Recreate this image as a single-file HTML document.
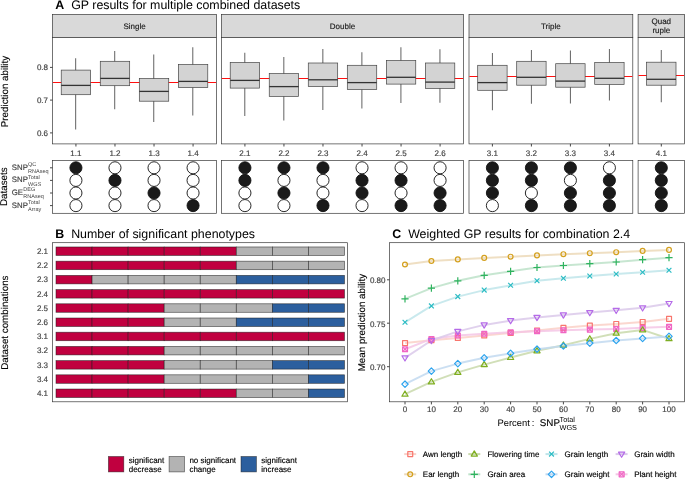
<!DOCTYPE html>
<html><head><meta charset="utf-8"><title>GP results</title>
<style>
html,body{margin:0;padding:0;background:#fff;}
svg{display:block}
text{font-family:"Liberation Sans", Arial, sans-serif;text-rendering:geometricPrecision;}
.tk{font-size:8px;fill:#444;stroke:#444;stroke-width:0.18px}
.st{font-size:8px;fill:#1a1a1a;stroke:#1a1a1a;stroke-width:0.15px}
.ti{font-size:12.4px;fill:#000;white-space:pre}
.ax{font-size:9.8px;fill:#000;stroke:#000;stroke-width:0.12px}
.lg{font-size:8px;fill:#000;stroke:#000;stroke-width:0.15px}
</style></head><body>
<svg width="685" height="479" viewBox="0 0 685 479">
<rect x="0" y="0" width="685" height="479" fill="#fff"/>

<rect x="52.5" y="14.5" width="164.00" height="23.00" fill="#d9d9d9" stroke="#333" stroke-width="0.68"/>
<text class="st" x="134.5" y="28.9" text-anchor="middle">Single</text>
<rect x="52.5" y="37.5" width="164.00" height="106.40" fill="#fff" stroke="#333" stroke-width="0.68"/>
<line x1="52.9" x2="216.1" y1="82.5" y2="82.5" stroke="#ff1010" stroke-width="1.0"/>
<line x1="75.63" x2="75.63" y1="58.3" y2="129.6" stroke="#707070" stroke-width="1.1"/>
<rect x="61.23" y="70.1" width="29.4" height="24.60" fill="#d3d3d3" stroke="#444" stroke-width="0.7"/>
<line x1="61.23" x2="90.63" y1="85.4" y2="85.4" stroke="#333" stroke-width="1.3"/>
<line x1="75.93" x2="75.93" y1="143.9" y2="146.5" stroke="#333" stroke-width="0.9"/>
<text class="tk" x="75.93" y="155.7" text-anchor="middle">1.1</text>
<line x1="114.68" x2="114.68" y1="51.0" y2="109.3" stroke="#707070" stroke-width="1.1"/>
<rect x="100.28" y="61.3" width="29.4" height="24.40" fill="#d3d3d3" stroke="#444" stroke-width="0.7"/>
<line x1="100.28" x2="129.68" y1="78.4" y2="78.4" stroke="#333" stroke-width="1.3"/>
<line x1="114.98" x2="114.98" y1="143.9" y2="146.5" stroke="#333" stroke-width="0.9"/>
<text class="tk" x="114.98" y="155.7" text-anchor="middle">1.2</text>
<line x1="153.72" x2="153.72" y1="54.5" y2="121.9" stroke="#707070" stroke-width="1.1"/>
<rect x="139.32" y="78.6" width="29.4" height="22.60" fill="#d3d3d3" stroke="#444" stroke-width="0.7"/>
<line x1="139.32" x2="168.72" y1="91.4" y2="91.4" stroke="#333" stroke-width="1.3"/>
<line x1="154.02" x2="154.02" y1="143.9" y2="146.5" stroke="#333" stroke-width="0.9"/>
<text class="tk" x="154.02" y="155.7" text-anchor="middle">1.3</text>
<line x1="192.77" x2="192.77" y1="47.2" y2="115.5" stroke="#707070" stroke-width="1.1"/>
<rect x="178.37" y="64.5" width="29.4" height="23.10" fill="#d3d3d3" stroke="#444" stroke-width="0.7"/>
<line x1="178.37" x2="207.77" y1="81.4" y2="81.4" stroke="#333" stroke-width="1.3"/>
<line x1="193.07" x2="193.07" y1="143.9" y2="146.5" stroke="#333" stroke-width="0.9"/>
<text class="tk" x="193.07" y="155.7" text-anchor="middle">1.4</text>
<rect x="52.5" y="160.5" width="164.00" height="52.80" fill="#fff" stroke="#333" stroke-width="0.68"/>
<circle cx="75.93" cy="167.8" r="6.05" fill="#1a1a1a" stroke="#111" stroke-width="0.9"/>
<circle cx="75.93" cy="180.4" r="6.05" fill="#fff" stroke="#111" stroke-width="0.9"/>
<circle cx="75.93" cy="193.0" r="6.05" fill="#fff" stroke="#111" stroke-width="0.9"/>
<circle cx="75.93" cy="205.6" r="6.05" fill="#fff" stroke="#111" stroke-width="0.9"/>
<circle cx="114.98" cy="167.8" r="6.05" fill="#fff" stroke="#111" stroke-width="0.9"/>
<circle cx="114.98" cy="180.4" r="6.05" fill="#1a1a1a" stroke="#111" stroke-width="0.9"/>
<circle cx="114.98" cy="193.0" r="6.05" fill="#fff" stroke="#111" stroke-width="0.9"/>
<circle cx="114.98" cy="205.6" r="6.05" fill="#fff" stroke="#111" stroke-width="0.9"/>
<circle cx="154.02" cy="167.8" r="6.05" fill="#fff" stroke="#111" stroke-width="0.9"/>
<circle cx="154.02" cy="180.4" r="6.05" fill="#fff" stroke="#111" stroke-width="0.9"/>
<circle cx="154.02" cy="193.0" r="6.05" fill="#1a1a1a" stroke="#111" stroke-width="0.9"/>
<circle cx="154.02" cy="205.6" r="6.05" fill="#fff" stroke="#111" stroke-width="0.9"/>
<circle cx="193.07" cy="167.8" r="6.05" fill="#fff" stroke="#111" stroke-width="0.9"/>
<circle cx="193.07" cy="180.4" r="6.05" fill="#fff" stroke="#111" stroke-width="0.9"/>
<circle cx="193.07" cy="193.0" r="6.05" fill="#fff" stroke="#111" stroke-width="0.9"/>
<circle cx="193.07" cy="205.6" r="6.05" fill="#1a1a1a" stroke="#111" stroke-width="0.9"/>
<rect x="221.5" y="14.5" width="242.00" height="23.00" fill="#d9d9d9" stroke="#333" stroke-width="0.68"/>
<text class="st" x="342.5" y="28.9" text-anchor="middle">Double</text>
<rect x="221.5" y="37.5" width="242.00" height="106.40" fill="#fff" stroke="#333" stroke-width="0.68"/>
<line x1="221.9" x2="463.1" y1="78.5" y2="78.5" stroke="#ff1010" stroke-width="1.0"/>
<line x1="244.77" x2="244.77" y1="52.7" y2="116.0" stroke="#707070" stroke-width="1.1"/>
<rect x="230.22" y="62.5" width="29.4" height="25.60" fill="#d3d3d3" stroke="#444" stroke-width="0.7"/>
<line x1="230.22" x2="259.62" y1="80.4" y2="80.4" stroke="#333" stroke-width="1.3"/>
<line x1="244.92" x2="244.92" y1="143.9" y2="146.5" stroke="#333" stroke-width="0.9"/>
<text class="tk" x="244.92" y="155.7" text-anchor="middle">2.1</text>
<line x1="283.80" x2="283.80" y1="57.0" y2="120.5" stroke="#707070" stroke-width="1.1"/>
<rect x="269.25" y="73.6" width="29.4" height="22.80" fill="#d3d3d3" stroke="#444" stroke-width="0.7"/>
<line x1="269.25" x2="298.65" y1="86.6" y2="86.6" stroke="#333" stroke-width="1.3"/>
<line x1="283.95" x2="283.95" y1="143.9" y2="146.5" stroke="#333" stroke-width="0.9"/>
<text class="tk" x="283.95" y="155.7" text-anchor="middle">2.2</text>
<line x1="322.83" x2="322.83" y1="48.9" y2="110.0" stroke="#707070" stroke-width="1.1"/>
<rect x="308.28" y="63.0" width="29.4" height="23.60" fill="#d3d3d3" stroke="#444" stroke-width="0.7"/>
<line x1="308.28" x2="337.68" y1="79.8" y2="79.8" stroke="#333" stroke-width="1.3"/>
<line x1="322.98" x2="322.98" y1="143.9" y2="146.5" stroke="#333" stroke-width="0.9"/>
<text class="tk" x="322.98" y="155.7" text-anchor="middle">2.3</text>
<line x1="361.87" x2="361.87" y1="52.2" y2="108.5" stroke="#707070" stroke-width="1.1"/>
<rect x="347.32" y="65.3" width="29.4" height="24.30" fill="#d3d3d3" stroke="#444" stroke-width="0.7"/>
<line x1="347.32" x2="376.72" y1="82.6" y2="82.6" stroke="#333" stroke-width="1.3"/>
<line x1="362.02" x2="362.02" y1="143.9" y2="146.5" stroke="#333" stroke-width="0.9"/>
<text class="tk" x="362.02" y="155.7" text-anchor="middle">2.4</text>
<line x1="400.90" x2="400.90" y1="47.2" y2="103.0" stroke="#707070" stroke-width="1.1"/>
<rect x="386.35" y="60.5" width="29.4" height="23.60" fill="#d3d3d3" stroke="#444" stroke-width="0.7"/>
<line x1="386.35" x2="415.75" y1="77.3" y2="77.3" stroke="#333" stroke-width="1.3"/>
<line x1="401.05" x2="401.05" y1="143.9" y2="146.5" stroke="#333" stroke-width="0.9"/>
<text class="tk" x="401.05" y="155.7" text-anchor="middle">2.5</text>
<line x1="439.93" x2="439.93" y1="49.2" y2="102.7" stroke="#707070" stroke-width="1.1"/>
<rect x="425.38" y="63.0" width="29.4" height="25.40" fill="#d3d3d3" stroke="#444" stroke-width="0.7"/>
<line x1="425.38" x2="454.78" y1="82.1" y2="82.1" stroke="#333" stroke-width="1.3"/>
<line x1="440.08" x2="440.08" y1="143.9" y2="146.5" stroke="#333" stroke-width="0.9"/>
<text class="tk" x="440.08" y="155.7" text-anchor="middle">2.6</text>
<rect x="221.5" y="160.5" width="242.00" height="52.80" fill="#fff" stroke="#333" stroke-width="0.68"/>
<circle cx="244.92" cy="167.8" r="6.05" fill="#1a1a1a" stroke="#111" stroke-width="0.9"/>
<circle cx="244.92" cy="180.4" r="6.05" fill="#1a1a1a" stroke="#111" stroke-width="0.9"/>
<circle cx="244.92" cy="193.0" r="6.05" fill="#fff" stroke="#111" stroke-width="0.9"/>
<circle cx="244.92" cy="205.6" r="6.05" fill="#fff" stroke="#111" stroke-width="0.9"/>
<circle cx="283.95" cy="167.8" r="6.05" fill="#1a1a1a" stroke="#111" stroke-width="0.9"/>
<circle cx="283.95" cy="180.4" r="6.05" fill="#fff" stroke="#111" stroke-width="0.9"/>
<circle cx="283.95" cy="193.0" r="6.05" fill="#1a1a1a" stroke="#111" stroke-width="0.9"/>
<circle cx="283.95" cy="205.6" r="6.05" fill="#fff" stroke="#111" stroke-width="0.9"/>
<circle cx="322.98" cy="167.8" r="6.05" fill="#1a1a1a" stroke="#111" stroke-width="0.9"/>
<circle cx="322.98" cy="180.4" r="6.05" fill="#fff" stroke="#111" stroke-width="0.9"/>
<circle cx="322.98" cy="193.0" r="6.05" fill="#fff" stroke="#111" stroke-width="0.9"/>
<circle cx="322.98" cy="205.6" r="6.05" fill="#1a1a1a" stroke="#111" stroke-width="0.9"/>
<circle cx="362.02" cy="167.8" r="6.05" fill="#fff" stroke="#111" stroke-width="0.9"/>
<circle cx="362.02" cy="180.4" r="6.05" fill="#1a1a1a" stroke="#111" stroke-width="0.9"/>
<circle cx="362.02" cy="193.0" r="6.05" fill="#1a1a1a" stroke="#111" stroke-width="0.9"/>
<circle cx="362.02" cy="205.6" r="6.05" fill="#fff" stroke="#111" stroke-width="0.9"/>
<circle cx="401.05" cy="167.8" r="6.05" fill="#fff" stroke="#111" stroke-width="0.9"/>
<circle cx="401.05" cy="180.4" r="6.05" fill="#1a1a1a" stroke="#111" stroke-width="0.9"/>
<circle cx="401.05" cy="193.0" r="6.05" fill="#fff" stroke="#111" stroke-width="0.9"/>
<circle cx="401.05" cy="205.6" r="6.05" fill="#1a1a1a" stroke="#111" stroke-width="0.9"/>
<circle cx="440.08" cy="167.8" r="6.05" fill="#fff" stroke="#111" stroke-width="0.9"/>
<circle cx="440.08" cy="180.4" r="6.05" fill="#fff" stroke="#111" stroke-width="0.9"/>
<circle cx="440.08" cy="193.0" r="6.05" fill="#1a1a1a" stroke="#111" stroke-width="0.9"/>
<circle cx="440.08" cy="205.6" r="6.05" fill="#1a1a1a" stroke="#111" stroke-width="0.9"/>
<rect x="469.0" y="14.5" width="163.80" height="23.00" fill="#d9d9d9" stroke="#333" stroke-width="0.68"/>
<text class="st" x="550.9" y="28.9" text-anchor="middle">Triple</text>
<rect x="469.0" y="37.5" width="163.80" height="106.40" fill="#fff" stroke="#333" stroke-width="0.68"/>
<line x1="469.4" x2="632.4" y1="76.5" y2="76.5" stroke="#ff1010" stroke-width="1.0"/>
<line x1="492.45" x2="492.45" y1="53.0" y2="110.3" stroke="#707070" stroke-width="1.1"/>
<rect x="477.70" y="65.3" width="29.4" height="25.00" fill="#d3d3d3" stroke="#444" stroke-width="0.7"/>
<line x1="477.70" x2="507.10" y1="82.6" y2="82.6" stroke="#333" stroke-width="1.3"/>
<line x1="492.40" x2="492.40" y1="143.9" y2="146.5" stroke="#333" stroke-width="0.9"/>
<text class="tk" x="492.40" y="155.7" text-anchor="middle">3.1</text>
<line x1="531.45" x2="531.45" y1="50.0" y2="103.7" stroke="#707070" stroke-width="1.1"/>
<rect x="516.70" y="61.3" width="29.4" height="23.90" fill="#d3d3d3" stroke="#444" stroke-width="0.7"/>
<line x1="516.70" x2="546.10" y1="77.3" y2="77.3" stroke="#333" stroke-width="1.3"/>
<line x1="531.40" x2="531.40" y1="143.9" y2="146.5" stroke="#333" stroke-width="0.9"/>
<text class="tk" x="531.40" y="155.7" text-anchor="middle">3.2</text>
<line x1="570.45" x2="570.45" y1="50.4" y2="103.4" stroke="#707070" stroke-width="1.1"/>
<rect x="555.70" y="63.7" width="29.4" height="23.50" fill="#d3d3d3" stroke="#444" stroke-width="0.7"/>
<line x1="555.70" x2="585.10" y1="81.1" y2="81.1" stroke="#333" stroke-width="1.3"/>
<line x1="570.40" x2="570.40" y1="143.9" y2="146.5" stroke="#333" stroke-width="0.9"/>
<text class="tk" x="570.40" y="155.7" text-anchor="middle">3.3</text>
<line x1="609.45" x2="609.45" y1="49.1" y2="100.4" stroke="#707070" stroke-width="1.1"/>
<rect x="594.70" y="62.5" width="29.4" height="22.00" fill="#d3d3d3" stroke="#444" stroke-width="0.7"/>
<line x1="594.70" x2="624.10" y1="78.3" y2="78.3" stroke="#333" stroke-width="1.3"/>
<line x1="609.40" x2="609.40" y1="143.9" y2="146.5" stroke="#333" stroke-width="0.9"/>
<text class="tk" x="609.40" y="155.7" text-anchor="middle">3.4</text>
<rect x="469.0" y="160.5" width="163.80" height="52.80" fill="#fff" stroke="#333" stroke-width="0.68"/>
<circle cx="492.40" cy="167.8" r="6.05" fill="#1a1a1a" stroke="#111" stroke-width="0.9"/>
<circle cx="492.40" cy="180.4" r="6.05" fill="#1a1a1a" stroke="#111" stroke-width="0.9"/>
<circle cx="492.40" cy="193.0" r="6.05" fill="#1a1a1a" stroke="#111" stroke-width="0.9"/>
<circle cx="492.40" cy="205.6" r="6.05" fill="#fff" stroke="#111" stroke-width="0.9"/>
<circle cx="531.40" cy="167.8" r="6.05" fill="#1a1a1a" stroke="#111" stroke-width="0.9"/>
<circle cx="531.40" cy="180.4" r="6.05" fill="#1a1a1a" stroke="#111" stroke-width="0.9"/>
<circle cx="531.40" cy="193.0" r="6.05" fill="#fff" stroke="#111" stroke-width="0.9"/>
<circle cx="531.40" cy="205.6" r="6.05" fill="#1a1a1a" stroke="#111" stroke-width="0.9"/>
<circle cx="570.40" cy="167.8" r="6.05" fill="#1a1a1a" stroke="#111" stroke-width="0.9"/>
<circle cx="570.40" cy="180.4" r="6.05" fill="#fff" stroke="#111" stroke-width="0.9"/>
<circle cx="570.40" cy="193.0" r="6.05" fill="#1a1a1a" stroke="#111" stroke-width="0.9"/>
<circle cx="570.40" cy="205.6" r="6.05" fill="#1a1a1a" stroke="#111" stroke-width="0.9"/>
<circle cx="609.40" cy="167.8" r="6.05" fill="#fff" stroke="#111" stroke-width="0.9"/>
<circle cx="609.40" cy="180.4" r="6.05" fill="#1a1a1a" stroke="#111" stroke-width="0.9"/>
<circle cx="609.40" cy="193.0" r="6.05" fill="#1a1a1a" stroke="#111" stroke-width="0.9"/>
<circle cx="609.40" cy="205.6" r="6.05" fill="#1a1a1a" stroke="#111" stroke-width="0.9"/>
<rect x="638.1" y="14.5" width="46.40" height="23.00" fill="#d9d9d9" stroke="#333" stroke-width="0.68"/>
<text class="st" x="661.3" y="24.0" text-anchor="middle">Quad</text>
<text class="st" x="661.3" y="32.8" text-anchor="middle">ruple</text>
<rect x="638.1" y="37.5" width="46.40" height="106.40" fill="#fff" stroke="#333" stroke-width="0.68"/>
<line x1="638.5" x2="684.1" y1="75.5" y2="75.5" stroke="#ff1010" stroke-width="1.0"/>
<line x1="661.30" x2="661.30" y1="50.0" y2="102.3" stroke="#707070" stroke-width="1.1"/>
<rect x="646.60" y="62.2" width="29.4" height="23.00" fill="#d3d3d3" stroke="#444" stroke-width="0.7"/>
<line x1="646.60" x2="676.00" y1="79.3" y2="79.3" stroke="#333" stroke-width="1.3"/>
<line x1="661.30" x2="661.30" y1="143.9" y2="146.5" stroke="#333" stroke-width="0.9"/>
<text class="tk" x="661.30" y="155.7" text-anchor="middle">4.1</text>
<rect x="638.1" y="160.5" width="46.40" height="52.80" fill="#fff" stroke="#333" stroke-width="0.68"/>
<circle cx="661.30" cy="167.8" r="6.05" fill="#1a1a1a" stroke="#111" stroke-width="0.9"/>
<circle cx="661.30" cy="180.4" r="6.05" fill="#1a1a1a" stroke="#111" stroke-width="0.9"/>
<circle cx="661.30" cy="193.0" r="6.05" fill="#1a1a1a" stroke="#111" stroke-width="0.9"/>
<circle cx="661.30" cy="205.6" r="6.05" fill="#1a1a1a" stroke="#111" stroke-width="0.9"/>
<line x1="50.0" x2="52.5" y1="67.4" y2="67.4" stroke="#333" stroke-width="0.9"/>
<text class="tk" x="48.0" y="70.1" text-anchor="end">0.8</text>
<line x1="50.0" x2="52.5" y1="100.1" y2="100.1" stroke="#333" stroke-width="0.9"/>
<text class="tk" x="48.0" y="102.8" text-anchor="end">0.7</text>
<line x1="50.0" x2="52.5" y1="132.9" y2="132.9" stroke="#333" stroke-width="0.9"/>
<text class="tk" x="48.0" y="135.6" text-anchor="end">0.6</text>
<line x1="50.0" x2="52.5" y1="167.8" y2="167.8" stroke="#333" stroke-width="0.9"/>
<text class="tk" style="font-size:7.8px" x="11.8" y="169.8">SNP</text>
<text x="28.1" y="165.9" font-size="5.5" fill="#444">QC</text>
<text x="28.1" y="172.9" font-size="5.5" fill="#444">RNAseq</text>
<line x1="50.0" x2="52.5" y1="180.4" y2="180.4" stroke="#333" stroke-width="0.9"/>
<text class="tk" style="font-size:7.8px" x="11.8" y="182.4">SNP</text>
<text x="28.1" y="178.5" font-size="5.5" fill="#444">Total</text>
<text x="28.1" y="185.5" font-size="5.5" fill="#444">WGS</text>
<line x1="50.0" x2="52.5" y1="193.0" y2="193.0" stroke="#333" stroke-width="0.9"/>
<text class="tk" style="font-size:7.8px" x="11.8" y="195.0">GE</text>
<text x="23.3" y="191.1" font-size="5.5" fill="#444">DEG</text>
<text x="23.3" y="198.1" font-size="5.5" fill="#444">RNAseq</text>
<line x1="50.0" x2="52.5" y1="205.6" y2="205.6" stroke="#333" stroke-width="0.9"/>
<text class="tk" style="font-size:7.8px" x="11.8" y="207.6">SNP</text>
<text x="28.1" y="203.7" font-size="5.5" fill="#444">Total</text>
<text x="28.1" y="210.7" font-size="5.5" fill="#444">Array</text>
<text class="ti" x="55.3" y="9.1" xml:space="preserve"><tspan font-weight="bold">A</tspan>  GP results for multiple combined datasets</text>
<text class="ax" transform="translate(7.6,91.5) rotate(-90)" text-anchor="middle">Prediction ability</text>
<text class="ax" transform="translate(6.8,186.7) rotate(-90)" text-anchor="middle">Datasets</text>
<rect x="52.5" y="242.7" width="295.00" height="159.10" fill="#fff" stroke="#333" stroke-width="0.68"/>
<rect x="56.00" y="246.97" width="36.06" height="8.5" fill="#c0003f" stroke="#1a1a1a" stroke-opacity="0.7" stroke-width="0.7"/>
<rect x="92.06" y="246.97" width="36.06" height="8.5" fill="#c0003f" stroke="#1a1a1a" stroke-opacity="0.7" stroke-width="0.7"/>
<rect x="128.12" y="246.97" width="36.06" height="8.5" fill="#c0003f" stroke="#1a1a1a" stroke-opacity="0.7" stroke-width="0.7"/>
<rect x="164.18" y="246.97" width="36.06" height="8.5" fill="#c0003f" stroke="#1a1a1a" stroke-opacity="0.7" stroke-width="0.7"/>
<rect x="200.24" y="246.97" width="36.06" height="8.5" fill="#c0003f" stroke="#1a1a1a" stroke-opacity="0.7" stroke-width="0.7"/>
<rect x="236.30" y="246.97" width="36.06" height="8.5" fill="#b3b3b3" stroke="#1a1a1a" stroke-opacity="0.7" stroke-width="0.7"/>
<rect x="272.36" y="246.97" width="36.06" height="8.5" fill="#b3b3b3" stroke="#1a1a1a" stroke-opacity="0.7" stroke-width="0.7"/>
<rect x="308.42" y="246.97" width="36.06" height="8.5" fill="#b3b3b3" stroke="#1a1a1a" stroke-opacity="0.7" stroke-width="0.7"/>
<text class="tk" x="48.0" y="253.92" text-anchor="end">2.1</text>
<rect x="56.00" y="261.18" width="36.06" height="8.5" fill="#c0003f" stroke="#1a1a1a" stroke-opacity="0.7" stroke-width="0.7"/>
<rect x="92.06" y="261.18" width="36.06" height="8.5" fill="#c0003f" stroke="#1a1a1a" stroke-opacity="0.7" stroke-width="0.7"/>
<rect x="128.12" y="261.18" width="36.06" height="8.5" fill="#c0003f" stroke="#1a1a1a" stroke-opacity="0.7" stroke-width="0.7"/>
<rect x="164.18" y="261.18" width="36.06" height="8.5" fill="#c0003f" stroke="#1a1a1a" stroke-opacity="0.7" stroke-width="0.7"/>
<rect x="200.24" y="261.18" width="36.06" height="8.5" fill="#c0003f" stroke="#1a1a1a" stroke-opacity="0.7" stroke-width="0.7"/>
<rect x="236.30" y="261.18" width="36.06" height="8.5" fill="#b3b3b3" stroke="#1a1a1a" stroke-opacity="0.7" stroke-width="0.7"/>
<rect x="272.36" y="261.18" width="36.06" height="8.5" fill="#b3b3b3" stroke="#1a1a1a" stroke-opacity="0.7" stroke-width="0.7"/>
<rect x="308.42" y="261.18" width="36.06" height="8.5" fill="#b3b3b3" stroke="#1a1a1a" stroke-opacity="0.7" stroke-width="0.7"/>
<text class="tk" x="48.0" y="268.13" text-anchor="end">2.2</text>
<rect x="56.00" y="275.38" width="36.06" height="8.5" fill="#c0003f" stroke="#1a1a1a" stroke-opacity="0.7" stroke-width="0.7"/>
<rect x="92.06" y="275.38" width="36.06" height="8.5" fill="#b3b3b3" stroke="#1a1a1a" stroke-opacity="0.7" stroke-width="0.7"/>
<rect x="128.12" y="275.38" width="36.06" height="8.5" fill="#b3b3b3" stroke="#1a1a1a" stroke-opacity="0.7" stroke-width="0.7"/>
<rect x="164.18" y="275.38" width="36.06" height="8.5" fill="#b3b3b3" stroke="#1a1a1a" stroke-opacity="0.7" stroke-width="0.7"/>
<rect x="200.24" y="275.38" width="36.06" height="8.5" fill="#b3b3b3" stroke="#1a1a1a" stroke-opacity="0.7" stroke-width="0.7"/>
<rect x="236.30" y="275.38" width="36.06" height="8.5" fill="#2c5f9e" stroke="#1a1a1a" stroke-opacity="0.7" stroke-width="0.7"/>
<rect x="272.36" y="275.38" width="36.06" height="8.5" fill="#2c5f9e" stroke="#1a1a1a" stroke-opacity="0.7" stroke-width="0.7"/>
<rect x="308.42" y="275.38" width="36.06" height="8.5" fill="#2c5f9e" stroke="#1a1a1a" stroke-opacity="0.7" stroke-width="0.7"/>
<text class="tk" x="48.0" y="282.33" text-anchor="end">2.3</text>
<rect x="56.00" y="289.59" width="36.06" height="8.5" fill="#c0003f" stroke="#1a1a1a" stroke-opacity="0.7" stroke-width="0.7"/>
<rect x="92.06" y="289.59" width="36.06" height="8.5" fill="#c0003f" stroke="#1a1a1a" stroke-opacity="0.7" stroke-width="0.7"/>
<rect x="128.12" y="289.59" width="36.06" height="8.5" fill="#c0003f" stroke="#1a1a1a" stroke-opacity="0.7" stroke-width="0.7"/>
<rect x="164.18" y="289.59" width="36.06" height="8.5" fill="#c0003f" stroke="#1a1a1a" stroke-opacity="0.7" stroke-width="0.7"/>
<rect x="200.24" y="289.59" width="36.06" height="8.5" fill="#c0003f" stroke="#1a1a1a" stroke-opacity="0.7" stroke-width="0.7"/>
<rect x="236.30" y="289.59" width="36.06" height="8.5" fill="#c0003f" stroke="#1a1a1a" stroke-opacity="0.7" stroke-width="0.7"/>
<rect x="272.36" y="289.59" width="36.06" height="8.5" fill="#c0003f" stroke="#1a1a1a" stroke-opacity="0.7" stroke-width="0.7"/>
<rect x="308.42" y="289.59" width="36.06" height="8.5" fill="#c0003f" stroke="#1a1a1a" stroke-opacity="0.7" stroke-width="0.7"/>
<text class="tk" x="48.0" y="296.54" text-anchor="end">2.4</text>
<rect x="56.00" y="303.79" width="36.06" height="8.5" fill="#c0003f" stroke="#1a1a1a" stroke-opacity="0.7" stroke-width="0.7"/>
<rect x="92.06" y="303.79" width="36.06" height="8.5" fill="#c0003f" stroke="#1a1a1a" stroke-opacity="0.7" stroke-width="0.7"/>
<rect x="128.12" y="303.79" width="36.06" height="8.5" fill="#c0003f" stroke="#1a1a1a" stroke-opacity="0.7" stroke-width="0.7"/>
<rect x="164.18" y="303.79" width="36.06" height="8.5" fill="#b3b3b3" stroke="#1a1a1a" stroke-opacity="0.7" stroke-width="0.7"/>
<rect x="200.24" y="303.79" width="36.06" height="8.5" fill="#b3b3b3" stroke="#1a1a1a" stroke-opacity="0.7" stroke-width="0.7"/>
<rect x="236.30" y="303.79" width="36.06" height="8.5" fill="#b3b3b3" stroke="#1a1a1a" stroke-opacity="0.7" stroke-width="0.7"/>
<rect x="272.36" y="303.79" width="36.06" height="8.5" fill="#2c5f9e" stroke="#1a1a1a" stroke-opacity="0.7" stroke-width="0.7"/>
<rect x="308.42" y="303.79" width="36.06" height="8.5" fill="#2c5f9e" stroke="#1a1a1a" stroke-opacity="0.7" stroke-width="0.7"/>
<text class="tk" x="48.0" y="310.74" text-anchor="end">2.5</text>
<rect x="56.00" y="318.00" width="36.06" height="8.5" fill="#c0003f" stroke="#1a1a1a" stroke-opacity="0.7" stroke-width="0.7"/>
<rect x="92.06" y="318.00" width="36.06" height="8.5" fill="#c0003f" stroke="#1a1a1a" stroke-opacity="0.7" stroke-width="0.7"/>
<rect x="128.12" y="318.00" width="36.06" height="8.5" fill="#c0003f" stroke="#1a1a1a" stroke-opacity="0.7" stroke-width="0.7"/>
<rect x="164.18" y="318.00" width="36.06" height="8.5" fill="#b3b3b3" stroke="#1a1a1a" stroke-opacity="0.7" stroke-width="0.7"/>
<rect x="200.24" y="318.00" width="36.06" height="8.5" fill="#b3b3b3" stroke="#1a1a1a" stroke-opacity="0.7" stroke-width="0.7"/>
<rect x="236.30" y="318.00" width="36.06" height="8.5" fill="#2c5f9e" stroke="#1a1a1a" stroke-opacity="0.7" stroke-width="0.7"/>
<rect x="272.36" y="318.00" width="36.06" height="8.5" fill="#2c5f9e" stroke="#1a1a1a" stroke-opacity="0.7" stroke-width="0.7"/>
<rect x="308.42" y="318.00" width="36.06" height="8.5" fill="#2c5f9e" stroke="#1a1a1a" stroke-opacity="0.7" stroke-width="0.7"/>
<text class="tk" x="48.0" y="324.95" text-anchor="end">2.6</text>
<rect x="56.00" y="332.21" width="36.06" height="8.5" fill="#c0003f" stroke="#1a1a1a" stroke-opacity="0.7" stroke-width="0.7"/>
<rect x="92.06" y="332.21" width="36.06" height="8.5" fill="#c0003f" stroke="#1a1a1a" stroke-opacity="0.7" stroke-width="0.7"/>
<rect x="128.12" y="332.21" width="36.06" height="8.5" fill="#c0003f" stroke="#1a1a1a" stroke-opacity="0.7" stroke-width="0.7"/>
<rect x="164.18" y="332.21" width="36.06" height="8.5" fill="#c0003f" stroke="#1a1a1a" stroke-opacity="0.7" stroke-width="0.7"/>
<rect x="200.24" y="332.21" width="36.06" height="8.5" fill="#c0003f" stroke="#1a1a1a" stroke-opacity="0.7" stroke-width="0.7"/>
<rect x="236.30" y="332.21" width="36.06" height="8.5" fill="#c0003f" stroke="#1a1a1a" stroke-opacity="0.7" stroke-width="0.7"/>
<rect x="272.36" y="332.21" width="36.06" height="8.5" fill="#c0003f" stroke="#1a1a1a" stroke-opacity="0.7" stroke-width="0.7"/>
<rect x="308.42" y="332.21" width="36.06" height="8.5" fill="#c0003f" stroke="#1a1a1a" stroke-opacity="0.7" stroke-width="0.7"/>
<text class="tk" x="48.0" y="339.16" text-anchor="end">3.1</text>
<rect x="56.00" y="346.41" width="36.06" height="8.5" fill="#c0003f" stroke="#1a1a1a" stroke-opacity="0.7" stroke-width="0.7"/>
<rect x="92.06" y="346.41" width="36.06" height="8.5" fill="#c0003f" stroke="#1a1a1a" stroke-opacity="0.7" stroke-width="0.7"/>
<rect x="128.12" y="346.41" width="36.06" height="8.5" fill="#c0003f" stroke="#1a1a1a" stroke-opacity="0.7" stroke-width="0.7"/>
<rect x="164.18" y="346.41" width="36.06" height="8.5" fill="#b3b3b3" stroke="#1a1a1a" stroke-opacity="0.7" stroke-width="0.7"/>
<rect x="200.24" y="346.41" width="36.06" height="8.5" fill="#b3b3b3" stroke="#1a1a1a" stroke-opacity="0.7" stroke-width="0.7"/>
<rect x="236.30" y="346.41" width="36.06" height="8.5" fill="#b3b3b3" stroke="#1a1a1a" stroke-opacity="0.7" stroke-width="0.7"/>
<rect x="272.36" y="346.41" width="36.06" height="8.5" fill="#b3b3b3" stroke="#1a1a1a" stroke-opacity="0.7" stroke-width="0.7"/>
<rect x="308.42" y="346.41" width="36.06" height="8.5" fill="#b3b3b3" stroke="#1a1a1a" stroke-opacity="0.7" stroke-width="0.7"/>
<text class="tk" x="48.0" y="353.36" text-anchor="end">3.2</text>
<rect x="56.00" y="360.62" width="36.06" height="8.5" fill="#c0003f" stroke="#1a1a1a" stroke-opacity="0.7" stroke-width="0.7"/>
<rect x="92.06" y="360.62" width="36.06" height="8.5" fill="#c0003f" stroke="#1a1a1a" stroke-opacity="0.7" stroke-width="0.7"/>
<rect x="128.12" y="360.62" width="36.06" height="8.5" fill="#c0003f" stroke="#1a1a1a" stroke-opacity="0.7" stroke-width="0.7"/>
<rect x="164.18" y="360.62" width="36.06" height="8.5" fill="#b3b3b3" stroke="#1a1a1a" stroke-opacity="0.7" stroke-width="0.7"/>
<rect x="200.24" y="360.62" width="36.06" height="8.5" fill="#b3b3b3" stroke="#1a1a1a" stroke-opacity="0.7" stroke-width="0.7"/>
<rect x="236.30" y="360.62" width="36.06" height="8.5" fill="#b3b3b3" stroke="#1a1a1a" stroke-opacity="0.7" stroke-width="0.7"/>
<rect x="272.36" y="360.62" width="36.06" height="8.5" fill="#2c5f9e" stroke="#1a1a1a" stroke-opacity="0.7" stroke-width="0.7"/>
<rect x="308.42" y="360.62" width="36.06" height="8.5" fill="#2c5f9e" stroke="#1a1a1a" stroke-opacity="0.7" stroke-width="0.7"/>
<text class="tk" x="48.0" y="367.57" text-anchor="end">3.3</text>
<rect x="56.00" y="374.82" width="36.06" height="8.5" fill="#c0003f" stroke="#1a1a1a" stroke-opacity="0.7" stroke-width="0.7"/>
<rect x="92.06" y="374.82" width="36.06" height="8.5" fill="#c0003f" stroke="#1a1a1a" stroke-opacity="0.7" stroke-width="0.7"/>
<rect x="128.12" y="374.82" width="36.06" height="8.5" fill="#c0003f" stroke="#1a1a1a" stroke-opacity="0.7" stroke-width="0.7"/>
<rect x="164.18" y="374.82" width="36.06" height="8.5" fill="#b3b3b3" stroke="#1a1a1a" stroke-opacity="0.7" stroke-width="0.7"/>
<rect x="200.24" y="374.82" width="36.06" height="8.5" fill="#b3b3b3" stroke="#1a1a1a" stroke-opacity="0.7" stroke-width="0.7"/>
<rect x="236.30" y="374.82" width="36.06" height="8.5" fill="#b3b3b3" stroke="#1a1a1a" stroke-opacity="0.7" stroke-width="0.7"/>
<rect x="272.36" y="374.82" width="36.06" height="8.5" fill="#b3b3b3" stroke="#1a1a1a" stroke-opacity="0.7" stroke-width="0.7"/>
<rect x="308.42" y="374.82" width="36.06" height="8.5" fill="#2c5f9e" stroke="#1a1a1a" stroke-opacity="0.7" stroke-width="0.7"/>
<text class="tk" x="48.0" y="381.77" text-anchor="end">3.4</text>
<rect x="56.00" y="389.03" width="36.06" height="8.5" fill="#c0003f" stroke="#1a1a1a" stroke-opacity="0.7" stroke-width="0.7"/>
<rect x="92.06" y="389.03" width="36.06" height="8.5" fill="#c0003f" stroke="#1a1a1a" stroke-opacity="0.7" stroke-width="0.7"/>
<rect x="128.12" y="389.03" width="36.06" height="8.5" fill="#c0003f" stroke="#1a1a1a" stroke-opacity="0.7" stroke-width="0.7"/>
<rect x="164.18" y="389.03" width="36.06" height="8.5" fill="#c0003f" stroke="#1a1a1a" stroke-opacity="0.7" stroke-width="0.7"/>
<rect x="200.24" y="389.03" width="36.06" height="8.5" fill="#c0003f" stroke="#1a1a1a" stroke-opacity="0.7" stroke-width="0.7"/>
<rect x="236.30" y="389.03" width="36.06" height="8.5" fill="#b3b3b3" stroke="#1a1a1a" stroke-opacity="0.7" stroke-width="0.7"/>
<rect x="272.36" y="389.03" width="36.06" height="8.5" fill="#b3b3b3" stroke="#1a1a1a" stroke-opacity="0.7" stroke-width="0.7"/>
<rect x="308.42" y="389.03" width="36.06" height="8.5" fill="#2c5f9e" stroke="#1a1a1a" stroke-opacity="0.7" stroke-width="0.7"/>
<text class="tk" x="48.0" y="395.98" text-anchor="end">4.1</text>
<text class="ti" x="55.3" y="238.0" xml:space="preserve"><tspan font-weight="bold">B</tspan>  Number of significant phenotypes</text>
<text class="ax" transform="translate(7.6,322.6) rotate(-90)" text-anchor="middle">Dataset combinations</text>
<rect x="108.4" y="456.5" width="15.4" height="15.4" fill="#c0003f" stroke="#1a1a1a" stroke-opacity="0.65" stroke-width="0.7"/>
<text class="lg" x="128.7" y="463.3">significant</text>
<text class="lg" x="128.7" y="472.0">decrease</text>
<rect x="169.1" y="456.5" width="15.4" height="15.4" fill="#b3b3b3" stroke="#1a1a1a" stroke-opacity="0.65" stroke-width="0.7"/>
<text class="lg" x="189.4" y="463.3">no significant</text>
<text class="lg" x="189.4" y="472.0">change</text>
<rect x="241.0" y="456.5" width="15.4" height="15.4" fill="#2c5f9e" stroke="#1a1a1a" stroke-opacity="0.65" stroke-width="0.7"/>
<text class="lg" x="261.3" y="463.3">significant</text>
<text class="lg" x="261.3" y="472.0">increase</text>
<rect x="389.5" y="242.7" width="295.10" height="159.10" fill="#fff" stroke="#333" stroke-width="0.68"/>
<line x1="387.0" x2="389.5" y1="279.8" y2="279.8" stroke="#333" stroke-width="0.9"/>
<text class="tk" x="385.5" y="283.1" text-anchor="end">0.80</text>
<line x1="387.0" x2="389.5" y1="323.2" y2="323.2" stroke="#333" stroke-width="0.9"/>
<text class="tk" x="385.5" y="326.5" text-anchor="end">0.75</text>
<line x1="387.0" x2="389.5" y1="366.7" y2="366.7" stroke="#333" stroke-width="0.9"/>
<text class="tk" x="385.5" y="370.0" text-anchor="end">0.70</text>
<line x1="405.0" x2="405.0" y1="401.8" y2="404.40000000000003" stroke="#333" stroke-width="0.9"/>
<text class="tk" x="405.0" y="412.2" text-anchor="middle">0</text>
<line x1="431.4" x2="431.4" y1="401.8" y2="404.40000000000003" stroke="#333" stroke-width="0.9"/>
<text class="tk" x="431.4" y="412.2" text-anchor="middle">10</text>
<line x1="457.8" x2="457.8" y1="401.8" y2="404.40000000000003" stroke="#333" stroke-width="0.9"/>
<text class="tk" x="457.8" y="412.2" text-anchor="middle">20</text>
<line x1="484.2" x2="484.2" y1="401.8" y2="404.40000000000003" stroke="#333" stroke-width="0.9"/>
<text class="tk" x="484.2" y="412.2" text-anchor="middle">30</text>
<line x1="510.6" x2="510.6" y1="401.8" y2="404.40000000000003" stroke="#333" stroke-width="0.9"/>
<text class="tk" x="510.6" y="412.2" text-anchor="middle">40</text>
<line x1="537.0" x2="537.0" y1="401.8" y2="404.40000000000003" stroke="#333" stroke-width="0.9"/>
<text class="tk" x="537.0" y="412.2" text-anchor="middle">50</text>
<line x1="563.4" x2="563.4" y1="401.8" y2="404.40000000000003" stroke="#333" stroke-width="0.9"/>
<text class="tk" x="563.4" y="412.2" text-anchor="middle">60</text>
<line x1="589.8" x2="589.8" y1="401.8" y2="404.40000000000003" stroke="#333" stroke-width="0.9"/>
<text class="tk" x="589.8" y="412.2" text-anchor="middle">70</text>
<line x1="616.2" x2="616.2" y1="401.8" y2="404.40000000000003" stroke="#333" stroke-width="0.9"/>
<text class="tk" x="616.2" y="412.2" text-anchor="middle">80</text>
<line x1="642.6" x2="642.6" y1="401.8" y2="404.40000000000003" stroke="#333" stroke-width="0.9"/>
<text class="tk" x="642.6" y="412.2" text-anchor="middle">90</text>
<line x1="669.0" x2="669.0" y1="401.8" y2="404.40000000000003" stroke="#333" stroke-width="0.9"/>
<text class="tk" x="669.0" y="412.2" text-anchor="middle">100</text>
<polyline points="405.0,343.0 431.4,340.2 457.8,337.9 484.2,335.4 510.6,332.9 537.0,330.4 563.4,327.8 589.8,325.6 616.2,323.9 642.6,321.9 669.0,318.8" fill="none" stroke="#fad0c7" stroke-opacity="0.85" stroke-width="2.0" stroke-linejoin="round"/>
<polyline points="405.0,349.2 431.4,338.9 457.8,335.4 484.2,333.7 510.6,332.2 537.0,331.2 563.4,330.2 589.8,329.6 616.2,328.9 642.6,327.8 669.0,326.8" fill="none" stroke="#f4c6e5" stroke-opacity="0.85" stroke-width="2.0" stroke-linejoin="round"/>
<polyline points="405.0,264.5 431.4,261.0 457.8,259.4 484.2,257.9 510.6,256.7 537.0,255.4 563.4,254.2 589.8,253.2 616.2,252.2 642.6,250.9 669.0,249.9" fill="none" stroke="#ecd9b8" stroke-opacity="0.85" stroke-width="2.0" stroke-linejoin="round"/>
<polyline points="405.0,394.2 431.4,381.9 457.8,372.4 484.2,364.6 510.6,357.5 537.0,350.8 563.4,345.2 589.8,338.9 616.2,333.2 642.6,329.9 669.0,338.7" fill="none" stroke="#c9d9ab" stroke-opacity="0.85" stroke-width="2.0" stroke-linejoin="round"/>
<polyline points="405.0,298.9 431.4,288.1 457.8,280.8 484.2,275.3 510.6,271.3 537.0,267.5 563.4,265.5 589.8,263.7 616.2,262.0 642.6,259.7 669.0,257.7" fill="none" stroke="#bde2c9" stroke-opacity="0.85" stroke-width="2.0" stroke-linejoin="round"/>
<polyline points="405.0,322.3 431.4,305.9 457.8,296.6 484.2,290.1 510.6,285.3 537.0,280.8 563.4,278.3 589.8,276.0 616.2,274.0 642.6,272.3 669.0,270.3" fill="none" stroke="#bfe5ea" stroke-opacity="0.85" stroke-width="2.0" stroke-linejoin="round"/>
<polyline points="405.0,384.2 431.4,371.1 457.8,363.6 484.2,357.8 510.6,353.3 537.0,349.2 563.4,346.0 589.8,343.2 616.2,340.5 642.6,338.4 669.0,336.4" fill="none" stroke="#c2d9f0" stroke-opacity="0.85" stroke-width="2.0" stroke-linejoin="round"/>
<polyline points="405.0,357.8 431.4,340.5 457.8,331.4 484.2,324.9 510.6,320.6 537.0,317.4 563.4,314.9 589.8,312.6 616.2,310.3 642.6,307.8 669.0,303.5" fill="none" stroke="#dac9ea" stroke-opacity="0.85" stroke-width="2.0" stroke-linejoin="round"/>
<rect x="402.6" y="340.6" width="4.9" height="4.9" fill="none" stroke="#f8766d" stroke-width="1.2" stroke-linejoin="round"/>
<rect x="429.0" y="337.8" width="4.9" height="4.9" fill="none" stroke="#f8766d" stroke-width="1.2" stroke-linejoin="round"/>
<rect x="455.4" y="335.5" width="4.9" height="4.9" fill="none" stroke="#f8766d" stroke-width="1.2" stroke-linejoin="round"/>
<rect x="481.8" y="333.0" width="4.9" height="4.9" fill="none" stroke="#f8766d" stroke-width="1.2" stroke-linejoin="round"/>
<rect x="508.2" y="330.5" width="4.9" height="4.9" fill="none" stroke="#f8766d" stroke-width="1.2" stroke-linejoin="round"/>
<rect x="534.6" y="328.0" width="4.9" height="4.9" fill="none" stroke="#f8766d" stroke-width="1.2" stroke-linejoin="round"/>
<rect x="561.0" y="325.4" width="4.9" height="4.9" fill="none" stroke="#f8766d" stroke-width="1.2" stroke-linejoin="round"/>
<rect x="587.4" y="323.2" width="4.9" height="4.9" fill="none" stroke="#f8766d" stroke-width="1.2" stroke-linejoin="round"/>
<rect x="613.8" y="321.5" width="4.9" height="4.9" fill="none" stroke="#f8766d" stroke-width="1.2" stroke-linejoin="round"/>
<rect x="640.2" y="319.5" width="4.9" height="4.9" fill="none" stroke="#f8766d" stroke-width="1.2" stroke-linejoin="round"/>
<rect x="666.6" y="316.4" width="4.9" height="4.9" fill="none" stroke="#f8766d" stroke-width="1.2" stroke-linejoin="round"/>
<rect x="402.6" y="346.8" width="4.9" height="4.9" fill="none" stroke="#f066c4" stroke-width="1.2" stroke-linejoin="round"/><path d="M402.6 346.8L407.4 351.6M402.6 351.6L407.4 346.8" fill="none" stroke="#f066c4" stroke-width="1.2" stroke-linejoin="round"/>
<rect x="429.0" y="336.5" width="4.9" height="4.9" fill="none" stroke="#f066c4" stroke-width="1.2" stroke-linejoin="round"/><path d="M429.0 336.5L433.8 341.3M429.0 341.3L433.8 336.5" fill="none" stroke="#f066c4" stroke-width="1.2" stroke-linejoin="round"/>
<rect x="455.4" y="333.0" width="4.9" height="4.9" fill="none" stroke="#f066c4" stroke-width="1.2" stroke-linejoin="round"/><path d="M455.4 333.0L460.2 337.8M455.4 337.8L460.2 333.0" fill="none" stroke="#f066c4" stroke-width="1.2" stroke-linejoin="round"/>
<rect x="481.8" y="331.3" width="4.9" height="4.9" fill="none" stroke="#f066c4" stroke-width="1.2" stroke-linejoin="round"/><path d="M481.8 331.3L486.6 336.1M481.8 336.1L486.6 331.3" fill="none" stroke="#f066c4" stroke-width="1.2" stroke-linejoin="round"/>
<rect x="508.2" y="329.8" width="4.9" height="4.9" fill="none" stroke="#f066c4" stroke-width="1.2" stroke-linejoin="round"/><path d="M508.2 329.8L513.0 334.6M508.2 334.6L513.0 329.8" fill="none" stroke="#f066c4" stroke-width="1.2" stroke-linejoin="round"/>
<rect x="534.6" y="328.8" width="4.9" height="4.9" fill="none" stroke="#f066c4" stroke-width="1.2" stroke-linejoin="round"/><path d="M534.6 328.8L539.4 333.6M534.6 333.6L539.4 328.8" fill="none" stroke="#f066c4" stroke-width="1.2" stroke-linejoin="round"/>
<rect x="561.0" y="327.8" width="4.9" height="4.9" fill="none" stroke="#f066c4" stroke-width="1.2" stroke-linejoin="round"/><path d="M561.0 327.8L565.8 332.6M561.0 332.6L565.8 327.8" fill="none" stroke="#f066c4" stroke-width="1.2" stroke-linejoin="round"/>
<rect x="587.4" y="327.2" width="4.9" height="4.9" fill="none" stroke="#f066c4" stroke-width="1.2" stroke-linejoin="round"/><path d="M587.4 327.2L592.2 332.0M587.4 332.0L592.2 327.2" fill="none" stroke="#f066c4" stroke-width="1.2" stroke-linejoin="round"/>
<rect x="613.8" y="326.5" width="4.9" height="4.9" fill="none" stroke="#f066c4" stroke-width="1.2" stroke-linejoin="round"/><path d="M613.8 326.5L618.6 331.3M613.8 331.3L618.6 326.5" fill="none" stroke="#f066c4" stroke-width="1.2" stroke-linejoin="round"/>
<rect x="640.2" y="325.4" width="4.9" height="4.9" fill="none" stroke="#f066c4" stroke-width="1.2" stroke-linejoin="round"/><path d="M640.2 325.4L645.0 330.2M640.2 330.2L645.0 325.4" fill="none" stroke="#f066c4" stroke-width="1.2" stroke-linejoin="round"/>
<rect x="666.6" y="324.4" width="4.9" height="4.9" fill="none" stroke="#f066c4" stroke-width="1.2" stroke-linejoin="round"/><path d="M666.6 324.4L671.4 329.2M666.6 329.2L671.4 324.4" fill="none" stroke="#f066c4" stroke-width="1.2" stroke-linejoin="round"/>
<circle cx="405.0" cy="264.5" r="2.43" fill="none" stroke="#d4a01e" stroke-width="1.2" stroke-linejoin="round"/>
<circle cx="431.4" cy="261.0" r="2.43" fill="none" stroke="#d4a01e" stroke-width="1.2" stroke-linejoin="round"/>
<circle cx="457.8" cy="259.4" r="2.43" fill="none" stroke="#d4a01e" stroke-width="1.2" stroke-linejoin="round"/>
<circle cx="484.2" cy="257.9" r="2.43" fill="none" stroke="#d4a01e" stroke-width="1.2" stroke-linejoin="round"/>
<circle cx="510.6" cy="256.7" r="2.43" fill="none" stroke="#d4a01e" stroke-width="1.2" stroke-linejoin="round"/>
<circle cx="537.0" cy="255.4" r="2.43" fill="none" stroke="#d4a01e" stroke-width="1.2" stroke-linejoin="round"/>
<circle cx="563.4" cy="254.2" r="2.43" fill="none" stroke="#d4a01e" stroke-width="1.2" stroke-linejoin="round"/>
<circle cx="589.8" cy="253.2" r="2.43" fill="none" stroke="#d4a01e" stroke-width="1.2" stroke-linejoin="round"/>
<circle cx="616.2" cy="252.2" r="2.43" fill="none" stroke="#d4a01e" stroke-width="1.2" stroke-linejoin="round"/>
<circle cx="642.6" cy="250.9" r="2.43" fill="none" stroke="#d4a01e" stroke-width="1.2" stroke-linejoin="round"/>
<circle cx="669.0" cy="249.9" r="2.43" fill="none" stroke="#d4a01e" stroke-width="1.2" stroke-linejoin="round"/>
<path d="M405.0 391.0L408.1 396.2L401.9 396.2Z" fill="none" stroke="#7fae1f" stroke-width="1.2" stroke-linejoin="round"/>
<path d="M431.4 378.7L434.5 383.9L428.3 383.9Z" fill="none" stroke="#7fae1f" stroke-width="1.2" stroke-linejoin="round"/>
<path d="M457.8 369.2L460.9 374.4L454.7 374.4Z" fill="none" stroke="#7fae1f" stroke-width="1.2" stroke-linejoin="round"/>
<path d="M484.2 361.4L487.3 366.6L481.1 366.6Z" fill="none" stroke="#7fae1f" stroke-width="1.2" stroke-linejoin="round"/>
<path d="M510.6 354.3L513.7 359.5L507.5 359.5Z" fill="none" stroke="#7fae1f" stroke-width="1.2" stroke-linejoin="round"/>
<path d="M537.0 347.6L540.1 352.8L533.9 352.8Z" fill="none" stroke="#7fae1f" stroke-width="1.2" stroke-linejoin="round"/>
<path d="M563.4 342.0L566.5 347.2L560.3 347.2Z" fill="none" stroke="#7fae1f" stroke-width="1.2" stroke-linejoin="round"/>
<path d="M589.8 335.7L592.9 340.9L586.7 340.9Z" fill="none" stroke="#7fae1f" stroke-width="1.2" stroke-linejoin="round"/>
<path d="M616.2 330.0L619.3 335.2L613.1 335.2Z" fill="none" stroke="#7fae1f" stroke-width="1.2" stroke-linejoin="round"/>
<path d="M642.6 326.7L645.7 331.9L639.5 331.9Z" fill="none" stroke="#7fae1f" stroke-width="1.2" stroke-linejoin="round"/>
<path d="M669.0 335.5L672.1 340.7L665.9 340.7Z" fill="none" stroke="#7fae1f" stroke-width="1.2" stroke-linejoin="round"/>
<path d="M401.4 298.9H408.6M405.0 295.3V302.5" fill="none" stroke="#2fb35f" stroke-width="1.2" stroke-linejoin="round"/>
<path d="M427.8 288.1H435.0M431.4 284.5V291.7" fill="none" stroke="#2fb35f" stroke-width="1.2" stroke-linejoin="round"/>
<path d="M454.2 280.8H461.4M457.8 277.2V284.4" fill="none" stroke="#2fb35f" stroke-width="1.2" stroke-linejoin="round"/>
<path d="M480.6 275.3H487.8M484.2 271.7V278.9" fill="none" stroke="#2fb35f" stroke-width="1.2" stroke-linejoin="round"/>
<path d="M507.0 271.3H514.2M510.6 267.7V274.9" fill="none" stroke="#2fb35f" stroke-width="1.2" stroke-linejoin="round"/>
<path d="M533.4 267.5H540.6M537.0 263.9V271.1" fill="none" stroke="#2fb35f" stroke-width="1.2" stroke-linejoin="round"/>
<path d="M559.8 265.5H567.0M563.4 261.9V269.1" fill="none" stroke="#2fb35f" stroke-width="1.2" stroke-linejoin="round"/>
<path d="M586.2 263.7H593.4M589.8 260.1V267.3" fill="none" stroke="#2fb35f" stroke-width="1.2" stroke-linejoin="round"/>
<path d="M612.6 262.0H619.8M616.2 258.4V265.6" fill="none" stroke="#2fb35f" stroke-width="1.2" stroke-linejoin="round"/>
<path d="M639.0 259.7H646.2M642.6 256.1V263.3" fill="none" stroke="#2fb35f" stroke-width="1.2" stroke-linejoin="round"/>
<path d="M665.4 257.7H672.6M669.0 254.1V261.3" fill="none" stroke="#2fb35f" stroke-width="1.2" stroke-linejoin="round"/>
<path d="M402.6 319.9L407.4 324.7M402.6 324.7L407.4 319.9" fill="none" stroke="#2bbcc4" stroke-width="1.2" stroke-linejoin="round"/>
<path d="M429.0 303.5L433.8 308.3M429.0 308.3L433.8 303.5" fill="none" stroke="#2bbcc4" stroke-width="1.2" stroke-linejoin="round"/>
<path d="M455.4 294.2L460.2 299.0M455.4 299.0L460.2 294.2" fill="none" stroke="#2bbcc4" stroke-width="1.2" stroke-linejoin="round"/>
<path d="M481.8 287.7L486.6 292.5M481.8 292.5L486.6 287.7" fill="none" stroke="#2bbcc4" stroke-width="1.2" stroke-linejoin="round"/>
<path d="M508.2 282.9L513.0 287.7M508.2 287.7L513.0 282.9" fill="none" stroke="#2bbcc4" stroke-width="1.2" stroke-linejoin="round"/>
<path d="M534.6 278.4L539.4 283.2M534.6 283.2L539.4 278.4" fill="none" stroke="#2bbcc4" stroke-width="1.2" stroke-linejoin="round"/>
<path d="M561.0 275.9L565.8 280.7M561.0 280.7L565.8 275.9" fill="none" stroke="#2bbcc4" stroke-width="1.2" stroke-linejoin="round"/>
<path d="M587.4 273.6L592.2 278.4M587.4 278.4L592.2 273.6" fill="none" stroke="#2bbcc4" stroke-width="1.2" stroke-linejoin="round"/>
<path d="M613.8 271.6L618.6 276.4M613.8 276.4L618.6 271.6" fill="none" stroke="#2bbcc4" stroke-width="1.2" stroke-linejoin="round"/>
<path d="M640.2 269.9L645.0 274.7M640.2 274.7L645.0 269.9" fill="none" stroke="#2bbcc4" stroke-width="1.2" stroke-linejoin="round"/>
<path d="M666.6 267.9L671.4 272.7M666.6 272.7L671.4 267.9" fill="none" stroke="#2bbcc4" stroke-width="1.2" stroke-linejoin="round"/>
<path d="M405.0 381.0L408.2 384.2L405.0 387.4L401.8 384.2Z" fill="none" stroke="#2ba3ee" stroke-width="1.2" stroke-linejoin="round"/>
<path d="M431.4 367.9L434.6 371.1L431.4 374.3L428.2 371.1Z" fill="none" stroke="#2ba3ee" stroke-width="1.2" stroke-linejoin="round"/>
<path d="M457.8 360.4L461.0 363.6L457.8 366.8L454.6 363.6Z" fill="none" stroke="#2ba3ee" stroke-width="1.2" stroke-linejoin="round"/>
<path d="M484.2 354.6L487.4 357.8L484.2 361.0L481.0 357.8Z" fill="none" stroke="#2ba3ee" stroke-width="1.2" stroke-linejoin="round"/>
<path d="M510.6 350.1L513.8 353.3L510.6 356.5L507.4 353.3Z" fill="none" stroke="#2ba3ee" stroke-width="1.2" stroke-linejoin="round"/>
<path d="M537.0 346.0L540.2 349.2L537.0 352.4L533.8 349.2Z" fill="none" stroke="#2ba3ee" stroke-width="1.2" stroke-linejoin="round"/>
<path d="M563.4 342.8L566.6 346.0L563.4 349.2L560.2 346.0Z" fill="none" stroke="#2ba3ee" stroke-width="1.2" stroke-linejoin="round"/>
<path d="M589.8 340.0L593.0 343.2L589.8 346.4L586.6 343.2Z" fill="none" stroke="#2ba3ee" stroke-width="1.2" stroke-linejoin="round"/>
<path d="M616.2 337.3L619.4 340.5L616.2 343.7L613.0 340.5Z" fill="none" stroke="#2ba3ee" stroke-width="1.2" stroke-linejoin="round"/>
<path d="M642.6 335.2L645.8 338.4L642.6 341.6L639.4 338.4Z" fill="none" stroke="#2ba3ee" stroke-width="1.2" stroke-linejoin="round"/>
<path d="M669.0 333.2L672.2 336.4L669.0 339.6L665.8 336.4Z" fill="none" stroke="#2ba3ee" stroke-width="1.2" stroke-linejoin="round"/>
<path d="M405.0 361.0L408.1 355.8L401.9 355.8Z" fill="none" stroke="#b56be8" stroke-width="1.2" stroke-linejoin="round"/>
<path d="M431.4 343.7L434.5 338.5L428.3 338.5Z" fill="none" stroke="#b56be8" stroke-width="1.2" stroke-linejoin="round"/>
<path d="M457.8 334.6L460.9 329.4L454.7 329.4Z" fill="none" stroke="#b56be8" stroke-width="1.2" stroke-linejoin="round"/>
<path d="M484.2 328.1L487.3 322.9L481.1 322.9Z" fill="none" stroke="#b56be8" stroke-width="1.2" stroke-linejoin="round"/>
<path d="M510.6 323.8L513.7 318.6L507.5 318.6Z" fill="none" stroke="#b56be8" stroke-width="1.2" stroke-linejoin="round"/>
<path d="M537.0 320.6L540.1 315.4L533.9 315.4Z" fill="none" stroke="#b56be8" stroke-width="1.2" stroke-linejoin="round"/>
<path d="M563.4 318.1L566.5 312.9L560.3 312.9Z" fill="none" stroke="#b56be8" stroke-width="1.2" stroke-linejoin="round"/>
<path d="M589.8 315.8L592.9 310.6L586.7 310.6Z" fill="none" stroke="#b56be8" stroke-width="1.2" stroke-linejoin="round"/>
<path d="M616.2 313.5L619.3 308.3L613.1 308.3Z" fill="none" stroke="#b56be8" stroke-width="1.2" stroke-linejoin="round"/>
<path d="M642.6 311.0L645.7 305.8L639.5 305.8Z" fill="none" stroke="#b56be8" stroke-width="1.2" stroke-linejoin="round"/>
<path d="M669.0 306.7L672.1 301.5L665.9 301.5Z" fill="none" stroke="#b56be8" stroke-width="1.2" stroke-linejoin="round"/>
<text class="ti" x="392.3" y="238.0" xml:space="preserve"><tspan font-weight="bold">C</tspan>  Weighted GP results for combination 2.4</text>
<text class="ax" transform="translate(365.2,322.6) rotate(-90)" text-anchor="middle">Mean prediction ability</text>
<text x="497.5" y="426.4" font-size="9.4" fill="#000">Percent</text>
<text x="531.7" y="426.4" font-size="9.4" fill="#000">:</text>
<text class="ax" x="539.8" y="426.4">SNP</text>
<text x="559.5" y="421.6" font-size="7.3" fill="#000">Total</text>
<text x="559.5" y="429.6" font-size="7.3" fill="#000">WGS</text>
<line x1="404.2" x2="416.2" y1="454.1" y2="454.1" stroke="#fad0c7" stroke-width="2.0"/>
<rect x="407.8" y="451.7" width="4.9" height="4.9" fill="none" stroke="#f8766d" stroke-width="1.2" stroke-linejoin="round"/>
<text class="lg" x="422.8" y="456.9">Awn length</text>
<line x1="468.3" x2="480.3" y1="454.1" y2="454.1" stroke="#c9d9ab" stroke-width="2.0"/>
<path d="M474.3 450.9L477.4 456.1L471.2 456.1Z" fill="none" stroke="#7fae1f" stroke-width="1.2" stroke-linejoin="round"/>
<text class="lg" x="487.4" y="456.9">Flowering time</text>
<line x1="545.5" x2="557.5" y1="454.1" y2="454.1" stroke="#bfe5ea" stroke-width="2.0"/>
<path d="M549.1 451.7L553.9 456.5M549.1 456.5L553.9 451.7" fill="none" stroke="#2bbcc4" stroke-width="1.2" stroke-linejoin="round"/>
<text class="lg" x="564.6" y="456.9">Grain length</text>
<line x1="615.6" x2="627.6" y1="454.1" y2="454.1" stroke="#dac9ea" stroke-width="2.0"/>
<path d="M621.6 457.3L624.7 452.1L618.5 452.1Z" fill="none" stroke="#b56be8" stroke-width="1.2" stroke-linejoin="round"/>
<text class="lg" x="634.2" y="456.9">Grain width</text>
<line x1="404.2" x2="416.2" y1="474.3" y2="474.3" stroke="#ecd9b8" stroke-width="2.0"/>
<circle cx="410.2" cy="474.3" r="2.43" fill="none" stroke="#d4a01e" stroke-width="1.2" stroke-linejoin="round"/>
<text class="lg" x="422.8" y="477.1">Ear length</text>
<line x1="468.3" x2="480.3" y1="474.3" y2="474.3" stroke="#bde2c9" stroke-width="2.0"/>
<path d="M470.7 474.3H477.9M474.3 470.7V477.9" fill="none" stroke="#2fb35f" stroke-width="1.2" stroke-linejoin="round"/>
<text class="lg" x="487.4" y="477.1">Grain area</text>
<line x1="545.5" x2="557.5" y1="474.3" y2="474.3" stroke="#c2d9f0" stroke-width="2.0"/>
<path d="M551.5 471.1L554.7 474.3L551.5 477.5L548.3 474.3Z" fill="none" stroke="#2ba3ee" stroke-width="1.2" stroke-linejoin="round"/>
<text class="lg" x="564.6" y="477.1">Grain weight</text>
<line x1="615.6" x2="627.6" y1="474.3" y2="474.3" stroke="#f4c6e5" stroke-width="2.0"/>
<rect x="619.2" y="471.9" width="4.9" height="4.9" fill="none" stroke="#f066c4" stroke-width="1.2" stroke-linejoin="round"/><path d="M619.2 471.9L624.0 476.7M619.2 476.7L624.0 471.9" fill="none" stroke="#f066c4" stroke-width="1.2" stroke-linejoin="round"/>
<text class="lg" x="634.2" y="477.1">Plant height</text>
</svg></body></html>
